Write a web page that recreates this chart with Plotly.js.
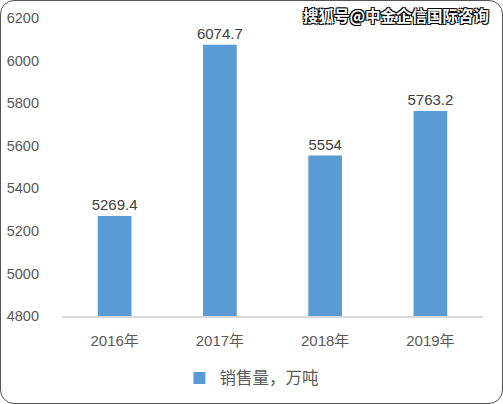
<!DOCTYPE html>
<html><head><meta charset="utf-8">
<script src="https://cdn.plot.ly/plotly-3.0.1.min.js"></script>
<style>
html,body{margin:0;padding:0;background:#fff;}
#wrap{position:relative;width:503px;height:404px;}
#chart{width:503px;height:404px;}
#frame{position:absolute;left:0;top:0;width:503px;height:404px;box-sizing:border-box;border:1.5px solid #555;border-radius:14px;pointer-events:none;}
</style></head>
<body>
<div id="wrap"><div id="chart"></div><div id="frame"></div></div>
<script>
var categories = ['2016年','2017年','2018年','2019年'];
var sales = [5269.4, 6074.7, 5554, 5763.2];
var labels = ['5269.4','6074.7','5554','5763.2'];
var yTicks = [4800,5000,5200,5400,5600,5800,6000,6200];
var seriesName = '销售量，万吨';
var watermark = '搜狐号@中金企信国际咨询';

var F = '"Liberation Sans", "Noto Sans CJK SC", sans-serif';
var trace = {
  type:'bar', x:categories, y:sales, name:seriesName,
  marker:{color:'#5B9BD5'},
  text:labels, textposition:'outside', cliponaxis:false, constraintext:'none',
  textfont:{family:F,size:15,color:'#404040'},
  width:0.32
};
var layout = {
  width:503, height:404,
  margin:{l:62,r:20,t:18,b:88,autoexpand:false},
  paper_bgcolor:'#fff', plot_bgcolor:'#fff',
  showlegend:true,
  legend:{orientation:'h',x:0.45,xanchor:'center',y:-0.15,yanchor:'top',
          font:{family:F,size:16.5,color:'#595959'}},
  xaxis:{showgrid:false,showline:true,linecolor:'#D9D9D9',linewidth:1.5,ticks:'',
         ticklabelstandoff:10,
         tickfont:{family:F,size:15,color:'#595959'}},
  yaxis:{range:[4800,6200],tickvals:yTicks,showgrid:false,zeroline:false,showline:false,
         ticks:'',ticklabelstandoff:22,
         tickfont:{family:F,size:14.5,color:'#595959'}},
  annotations:[{xref:'paper',yref:'paper',x:1.02,y:1.01,xanchor:'right',yanchor:'middle',
    text:watermark,showarrow:false,
    font:{family:'"Noto Sans CJK SC", sans-serif',size:15.5,color:'#ffffff',weight:'bold',
          shadow:'1px 1px 0 #000, -1px -1px 0 #000, 1px -1px 0 #000, -1px 1px 0 #000'}}]
};
Plotly.newPlot('chart',[trace],layout,{displayModeBar:false,staticPlot:true});
</script>
</body></html>
